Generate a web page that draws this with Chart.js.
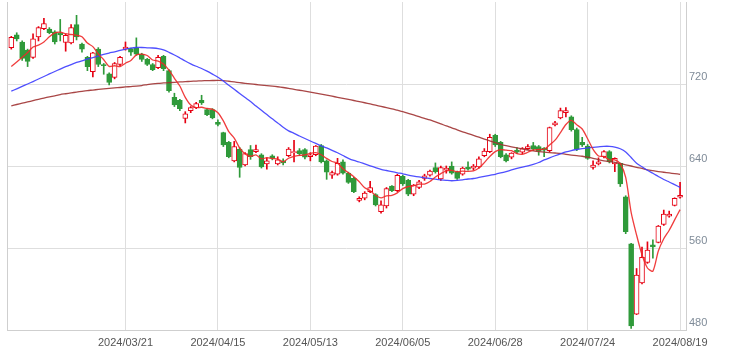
<!DOCTYPE html>
<html><head><meta charset="utf-8">
<style>html,body{margin:0;padding:0;background:#fff}canvas{display:block}</style>
<script src="https://cdn.jsdelivr.net/npm/chart.js@4/dist/chart.umd.min.js"></script>
</head><body>
<canvas id="c" width="733" height="355"></canvas>
<script>
const tickIndex = [21, 38, 55, 72, 89, 106, 123];
const tickLabels = ['2024/03/21','2024/04/15','2024/05/13','2024/06/05','2024/06/28','2024/07/24','2024/08/19'];
const yTicks = [480, 560, 640, 720];

const open = [
755.5,768,761,753,746,766,774,773.5,771,770,
760.5,760,778,759,746,732,754,739,730,726.5,
739,754,754.5,755,749,744,739,736,747,733,
707,704,686.5,694,697,704,695,695,682.5,672.5,
663,645,656.5,641,656,654,651,642,650,642,
645,650,653,655,656,649,651,660,645,631,
632,644,633,628,606.5,608.5,615,612,595.5,601,
620.5,616,630,626,612.5,619,628,631,638.5,627.5,
636,640,634,632,639,638,639,650,654,670,
663,651,648.5,655.5,653.5,657,660,659,657.5,655,
680,687,692,688,675.5,663,659.5,638.5,642,649,
654,642,642.5,610,564,495.5,526,546,563,565.5,
583,591,601.5,609.5];
const close = [
765.5,764,745,742,764,775,779,770,761,768,
767.5,775,766,754,737,750.5,739,738,721.5,740,
746,756,751,749,744,739,734,746,735,713.5,
699.5,696,691,697,701,701.5,690,687,680.5,660.5,
649,659,638.5,652,649,656,639,645,647.5,646,
643,656.5,654,652,648.5,651,659.5,644,634,633.5,
642.5,633,624,615,608.5,613.5,619,602,602,618,
616,631,622.5,612.5,621.5,624.5,630.5,635,634.5,638.5,
638,633,628,638,637,640,647,654.5,668,660.5,
649,645,652.5,653.5,657,659,656.5,654.5,655.5,677.5,
682,694,694,675.5,656.5,660.5,647.5,641,644,654,
644,647.5,622.5,576,484,533.5,551,558,561,581.5,
593,593,608.5,611.5];
const high = [
766.5,770,762,754,769,776,784,775,772,783,
768.5,778,787,760,747,751,755.5,740,731,741,
747,761,755,765,750,745,740,748,748,734,
711,705,693,698,702,709,696,696,685,673,
664,664,658,653,660,660.5,652,648,651,649,
647,658,665,657,657,653,660,661,646,635,
647.5,646,634,629,610,615,625,613,606,619,
621,632,631,627,622,626,632,636,643,640,
640,644,635,639,644,641.5,649,657,671,671,
664,652,653,658,658,661,663,660,658,678,
683.5,696.5,697,689,677,668,661,645,648,655,
655,648,643,611,564.5,540,561,566,568,582,
597,596,609,624];
const low = [
754,762,743,737,745,762,773,769,759,762,
752,759,763,751,733,727,737,729.5,719,725,
738,753,748,748,742,738,733,735,733,712,
698,694,682,692,696,700,689,686,679,659,
648,644,629,640,646.5,653,638,637,646,641,
641,649,644,650,647,645,650,643,627,628,
631,632,623,614,605,607,614,601,594,599,
615,615,621,611,611,618,626,630,633,626,
633,632,627,631,636,636,638,649,653,659,
648,644,647,652,652,656,655,650.5,649,654,
679,686,688,674,655,659,646.5,637,641,648,
643,634.5,620,574,481.5,495,525,545,550,565,
582,590,601,608.5];
const ma5 = [
737.1,741.5,746,750.7,756.1,758,761,766,769.8,770.6,
769.1,768.3,767.5,766.1,759.9,756.5,749.3,743.7,737.2,737.8,
736.9,740.3,742.9,748.4,749.2,747.8,743.4,742.4,739.6,733.5,
725.6,718,707,699.5,696.9,697.3,696.1,695.3,692,684,
673.5,667.3,657.6,651.8,649.5,650.9,646.9,648.2,647.3,646.7,
644.1,647.6,649.4,650.3,650.8,652.4,653,651,647.4,644.4,
642.7,637.4,633.4,629.6,624.6,618.7,615.9,611.5,608.9,610.9,
611.4,613.8,617.9,620,620.7,622.4,622.3,624.8,629.2,632.6,
635.3,635.8,634.4,635,634.7,635.2,638,643.3,649.3,654,
655.9,655.4,655,652.1,651.4,653.4,655.7,656.1,656.4,660.5,
665.2,672.6,680.5,684.5,680.3,676.1,666.6,656.2,649.8,649.3,
646,646,642.3,628.8,594.8,572.7,553.4,540.5,537.4,557,
569,577.3,587.4,597.4];
const ma25 = [
713,715.3,717.7,720,722.4,724.9,727.3,729.8,732.2,734.6,
736.9,739,741,742.6,744.4,745.8,747.3,748.8,750.2,751.4,
752.9,754.1,755.1,755.6,755.6,755.3,755.1,754.6,753.2,750.9,
748.3,745.4,742.4,739.7,737.3,735.1,732.5,729.6,726.6,722.9,
718.8,714.8,710.8,706.8,702.9,698.5,694.3,690.2,686,682,
677.8,674.3,671.9,669.3,666.8,664.4,662,659.7,657.6,655.3,
652.9,650.2,647.5,645.4,643.9,642,640.2,638.5,636.8,635.6,
634.5,633.4,632.4,631.2,630.2,629.3,628.5,627.8,627.1,626.5,
626,625.6,625.9,626.5,627.3,627.8,628.8,629.8,630.9,631.9,
633.2,634.6,636.1,637.6,639,640.2,641.5,643.4,645.9,648,
650,651.9,653.7,655.1,656.1,656.9,657.6,658.2,658.7,659.2,
659.2,658.5,656.8,653.7,648.3,642.7,639.3,635.8,632.9,629.8,
626.8,624.4,621.8,619.2];
const ma75 = [
698.7,700,701.3,702.5,703.8,705.1,706.3,707.4,708.5,709.7,
710.5,711.3,712.1,712.9,713.6,714.1,714.7,715.3,715.8,716.2,
716.6,717.1,717.5,717.9,718.5,719.4,720.2,720.7,721,721.3,
721.6,722,722.3,722.6,722.9,723.1,723.3,723.4,723.5,723.3,
722.7,722,721.3,720.7,720.1,719.5,719,718.5,717.9,717.3,
716.6,715.8,714.8,713.9,713,712,711.1,710.1,709.1,708.1,
707,706,705,703.9,702.8,701.7,700.5,699.3,698.1,697,
695.8,694.4,693,691.4,689.8,688.1,686.5,684.9,683,681.1,
679.1,677.3,675.3,673.4,671.6,669.9,668.1,666.3,664.5,662.7,
661.1,659.8,658.7,657.7,656.6,655.6,654.7,654,653.6,653.1,
652.7,652.3,651.4,650.7,650.1,649.5,648.6,647.5,646.2,645.1,
644.3,643.6,642.4,641.2,640,638.7,637.6,636.3,635.4,634.6,
633.9,633.2,632.6,631.9];

const RED = '#e60012', GREEN = '#2f9a3a';
const up = i => close[i] >= open[i];
const pts = arr => arr.map((v, i) => ({x: i, y: v}));

const frame = {
  id: 'frame',
  beforeDatasetsDraw(c) {
    const a = c.chartArea, g = c.ctx;
    g.save();
    g.strokeStyle = '#cfcfcf'; g.lineWidth = 1;
    g.beginPath();
    g.moveTo(Math.floor(a.left) + 0.5, a.top);
    g.lineTo(Math.floor(a.left) + 0.5, a.bottom);
    g.stroke();
    g.restore();
  }
};

const lineDs = (arr, color) => ({
  type: 'line', data: pts(arr), borderColor: color, borderWidth: 1.3,
  pointRadius: 0, tension: 0.25, fill: false
});

new Chart(document.getElementById('c'), {
  type: 'bar',
  data: {
    datasets: [
      lineDs(ma5, 'rgba(238,40,40,0.9)'),
      lineDs(ma25, 'rgba(60,60,255,0.9)'),
      lineDs(ma75, 'rgba(160,50,50,0.9)'),
      {
        type: 'bar', grouped: false,
        data: open.map((o, i) => ({x: i, y: [open[i], close[i]]})),
        barThickness: 5,
        backgroundColor: ctx => up(ctx.dataIndex) ? '#ffffff' : GREEN,
        borderColor: ctx => up(ctx.dataIndex) ? RED : GREEN,
        borderWidth: 1, borderSkipped: false
      },
      {
        type: 'bar', grouped: false,
        data: open.map((o, i) => ({x: i, y: [low[i], high[i]]})),
        barThickness: 1,
        backgroundColor: ctx => up(ctx.dataIndex) ? RED : GREEN,
        borderWidth: 0
      }
    ]
  },
  options: {
    responsive: false, animation: false, devicePixelRatio: 1,
    layout: {padding: {left: 7, top: 2, right: 0, bottom: 0}},
    plugins: {legend: {display: false}, tooltip: {enabled: false}},
    scales: {
      x: {
        type: 'linear', min: -0.79, max: 124.09, offset: false,
        grid: {color: '#dedede', offset: false, drawTicks: false},
        border: {color: '#cfcfcf'},
        afterBuildTicks: s => { s.ticks = tickIndex.map(v => ({value: v})); },
        afterFit: s => { s.height = 25; s.paddingLeft = 0; s.paddingRight = 0; },
        ticks: {
          autoSkip: false, maxRotation: 0, padding: 6, color: '#555',
          font: {size: 11, family: 'Liberation Sans, Arial, sans-serif'},
          callback: v => { const k = tickIndex.indexOf(v); return k >= 0 ? tickLabels[k] : ''; }
        }
      },
      y: {
        type: 'linear', position: 'right', min: 480, max: 800,
        grid: {color: '#dedede', drawTicks: false},
        border: {color: '#cfcfcf'},
        afterBuildTicks: s => { s.ticks = yTicks.map(v => ({value: v})); },
        afterFit: s => { s.width = 47; s.paddingTop = 0; s.paddingBottom = 0; },
        ticks: {
          padding: 3, labelOffset: -7, color: '#7f8b98',
          font: {size: 11, family: 'Liberation Sans, Arial, sans-serif'}
        }
      }
    }
  },
  plugins: [frame]
});
</script>
</body></html>
